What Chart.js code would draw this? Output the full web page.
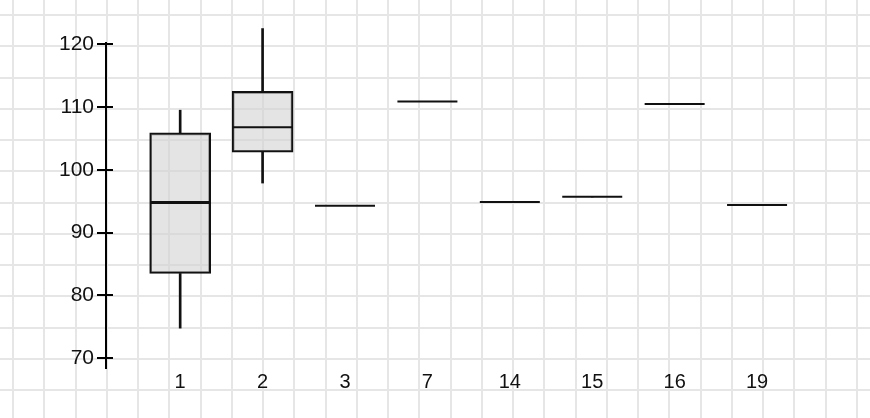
<!DOCTYPE html>
<html>
<head>
<meta charset="utf-8">
<script src="https://cdn.jsdelivr.net/npm/chart.js@4.4.1/dist/chart.umd.min.js"></script>
<style>
  html, body { margin: 0; padding: 0; background: #fff; }
  canvas { display: block; }
</style>
</head>
<body>
<canvas id="boxChart" width="870" height="418"></canvas>
<script>
// values
const categories = ["1", "2", "3", "7", "14", "15", "16", "19"];
const whiskerLow  = [74.8, 97.9, 94.3, 110.9, 94.9, 95.7, 110.5, 94.4];
const boxLow      = [83.5, 102.8, 94.3, 110.9, 94.9, 95.7, 110.5, 94.4];
const medians     = [94.8, 106.8, 94.3, 110.9, 94.9, 95.7, 110.5, 94.4];
const boxHigh     = [105.9, 112.5, 94.3, 110.9, 94.9, 95.7, 110.5, 94.4];
const whiskerHigh = [109.5, 122.5, 94.3, 110.9, 94.9, 95.7, 110.5, 94.4];
const yTicks = [70, 80, 90, 100, 110, 120];

const FONT = "'Liberation Sans', 'DejaVu Sans', sans-serif";

// graph paper behind everything
const paper = {
  id: "paper",
  beforeDraw(chart) {
    const c = chart.ctx;
    c.save();
    c.fillStyle = "#fff";
    c.fillRect(0, 0, chart.width, chart.height);
    c.fillStyle = "#e6e6e6";
    for (let x = 13; x < chart.width; x += 31.25) c.fillRect(Math.round(x) - 1, 0, 2, chart.height);
    for (let y = 15; y < chart.height; y += 31.25) c.fillRect(0, Math.round(y) - 1, chart.width, 2);
    c.restore();
  }
};

// tick marks crossing the y axis
const crossTicks = {
  id: "crossTicks",
  afterDraw(chart) {
    const ys = chart.scales.y;
    const x0 = chart.chartArea.left;
    const c = chart.ctx;
    c.save();
    c.strokeStyle = "#000";
    c.lineWidth = 2;
    yTicks.forEach(v => {
      const py = Math.round(ys.getPixelForValue(v));
      c.beginPath();
      c.moveTo(x0 - 9, py);
      c.lineTo(x0 + 7, py);
      c.stroke();
    });
    c.restore();
  }
};

const pts = arr => arr.map((v, i) => ({ x: i, y: v }));
const span = (a, b) => a.map((v, i) => ({ x: i, y: [v, b[i]] }));

new Chart(document.getElementById("boxChart"), {
  data: {
    datasets: [
      {
        type: "scatter",
        order: 1,
        data: pts(medians),
        pointStyle: "line",
        pointRadius: 30,
        pointHoverRadius: 30,
        borderColor: "#111",
        borderWidth: ctx => (ctx.dataIndex === 0 ? 3 : 2),
        clip: false
      },
      {
        type: "bar",
        order: 2,
        data: span(boxLow, boxHigh),
        backgroundColor: "rgba(210,210,210,0.6)",
        borderColor: "#111",
        borderWidth: 2,
        borderSkipped: false,
        barThickness: 61,
        grouped: false,
        clip: false
      },
      {
        type: "bar",
        order: 3,
        data: span(whiskerLow, boxLow),
        backgroundColor: "#111",
        barThickness: 2,
        grouped: false,
        clip: false
      },
      {
        type: "bar",
        order: 3,
        data: span(boxHigh, whiskerHigh),
        backgroundColor: "#111",
        barThickness: 2,
        grouped: false,
        clip: false
      }
    ]
  },
  options: {
    responsive: false,
    animation: false,
    layout: { padding: { top: 43, right: 20, bottom: 0, left: 0 } },
    plugins: {
      legend: { display: false },
      tooltip: { enabled: false }
    },
    scales: {
      x: {
        type: "linear",
        offset: false,
        min: -0.9,
        max: 7.97,
        afterBuildTicks: s => { s.ticks = categories.map((c, i) => ({ value: i })); },
        afterFit: s => { s.height = 50; },
        grid: { display: false, drawTicks: false },
        border: { display: false },
        ticks: {
          autoSkip: false,
          maxRotation: 0,
          padding: 2,
          color: "#111",
          font: { family: FONT, size: 20 },
          callback: v => categories[v]
        }
      },
      y: {
        min: 68.45,
        max: 120.2,
        afterBuildTicks: s => { s.ticks = yTicks.map(v => ({ value: v })); },
        afterFit: s => { s.width = 106; },
        grid: { display: false, drawTicks: false },
        border: { display: true, color: "#000", width: 2 },
        ticks: {
          padding: 12,
          color: "#111",
          font: { family: FONT, size: 21 }
        }
      }
    }
  },
  plugins: [paper, crossTicks]
});
</script>
</body>
</html>
